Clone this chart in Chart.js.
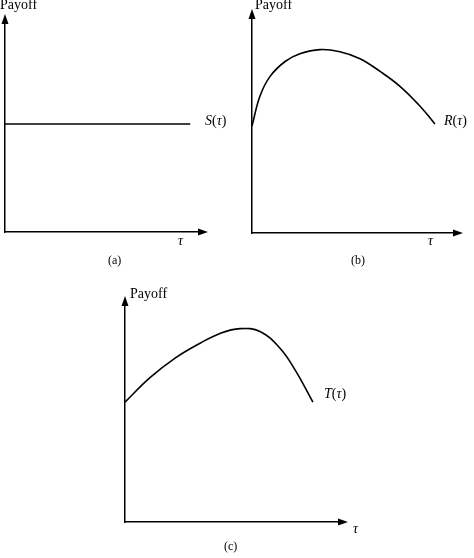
<!DOCTYPE html>
<html>
<head>
<meta charset="utf-8">
<script src="https://cdn.jsdelivr.net/npm/chart.js@4"></script>
<style>
body { margin: 0; background: #fff; }
#wrap { position: relative; width: 474px; height: 558px; overflow: hidden; }
canvas { position: absolute; left: 0; top: 0; }
.lbl { position: absolute; font-family: "Liberation Serif", serif; font-size: 14px; color: #000; white-space: nowrap; }
.m { font-style: italic; }
</style>
</head>
<body>
<div id="wrap">
  <canvas id="ca" width="474" height="558"></canvas>
  <canvas id="cb" width="474" height="558"></canvas>
  <canvas id="cc" width="474" height="558"></canvas>

  <div class="lbl" style="left:0px;top:-3px">Payoff</div>
  <div class="lbl" style="left:205px;top:113px"><span class="m">S</span>(<span class="m">τ</span>)</div>
  <div class="lbl m" style="left:178px;top:233px">τ</div>
  <div class="lbl" style="left:108px;top:253px;font-size:12px">(a)</div>

  <div class="lbl" style="left:255px;top:-3px">Payoff</div>
  <div class="lbl" style="left:444px;top:113px"><span class="m">R</span>(<span class="m">τ</span>)</div>
  <div class="lbl m" style="left:428px;top:233px">τ</div>
  <div class="lbl" style="left:351px;top:253px;font-size:12px">(b)</div>

  <div class="lbl" style="left:130px;top:286px">Payoff</div>
  <div class="lbl" style="left:324px;top:386px"><span class="m">T</span>(<span class="m">τ</span>)</div>
  <div class="lbl m" style="left:353px;top:521px">τ</div>
  <div class="lbl" style="left:224px;top:539px;font-size:12px">(c)</div>
</div>
<script>
// DATA (axis units 0..10)
const aX = [0, 9.5];
const aY = [5.14, 5.14];

const bX = [0, 0.39, 0.89, 1.63, 2.36, 3.35, 4.33, 5.32, 6.31, 7.29, 8.28, 9.01];
const bY = [4.95, 6.33, 7.25, 7.94, 8.30, 8.49, 8.39, 8.07, 7.48, 6.79, 5.87, 5.05];

const cX = [0, 1.16, 2.33, 3.49, 4.42, 5.35, 6.28, 7.21, 7.91, 8.74];
const cY = [5.5, 6.62, 7.52, 8.2, 8.65, 8.87, 8.74, 7.97, 6.98, 5.5];

// ARROWHEADS ON AXES
const arrows = {
    id: 'arrows',
    afterDraw(chart) {
        const a = chart.chartArea, g = chart.ctx;
        g.save();
        g.fillStyle = '#000';
        g.beginPath();
        g.moveTo(a.left, a.top - 8);
        g.lineTo(a.left - 3.5, a.top + 2);
        g.lineTo(a.left + 3.5, a.top + 2);
        g.fill();
        g.beginPath();
        g.moveTo(a.right + 8, a.bottom);
        g.lineTo(a.right - 2, a.bottom - 3.5);
        g.lineTo(a.right - 2, a.bottom + 3.5);
        g.fill();
        g.restore();
    }
};

function panel(id, xs, ys, box) {
    const axis = {
        type: 'linear', min: 0, max: 10,
        grid: { display: false, drawTicks: false },
        ticks: { display: false },
        border: { display: true, color: '#000', width: 1.5 }
    };
    new Chart(document.getElementById(id), {
        type: 'line',
        data: {
            datasets: [{
                data: xs.map((x, i) => ({ x: x, y: ys[i] })),
                borderColor: '#000',
                borderWidth: 1.6,
                pointRadius: 0,
                tension: 0.4,
                fill: false
            }]
        },
        options: {
            responsive: false,
            animation: false,
            devicePixelRatio: 1,
            layout: { padding: { left: box[0], top: box[1], right: 474 - box[2], bottom: 558 - box[3] } },
            plugins: { legend: { display: false }, tooltip: { enabled: false } },
            scales: { x: axis, y: { ...axis } }
        },
        plugins: [arrows]
    });
}

panel('ca', aX, aY, [5, 22, 200, 232]);
panel('cb', bX, bY, [252, 17, 455, 233]);
panel('cc', cX, cY, [125, 304, 340, 522]);
</script>
</body>
</html>
